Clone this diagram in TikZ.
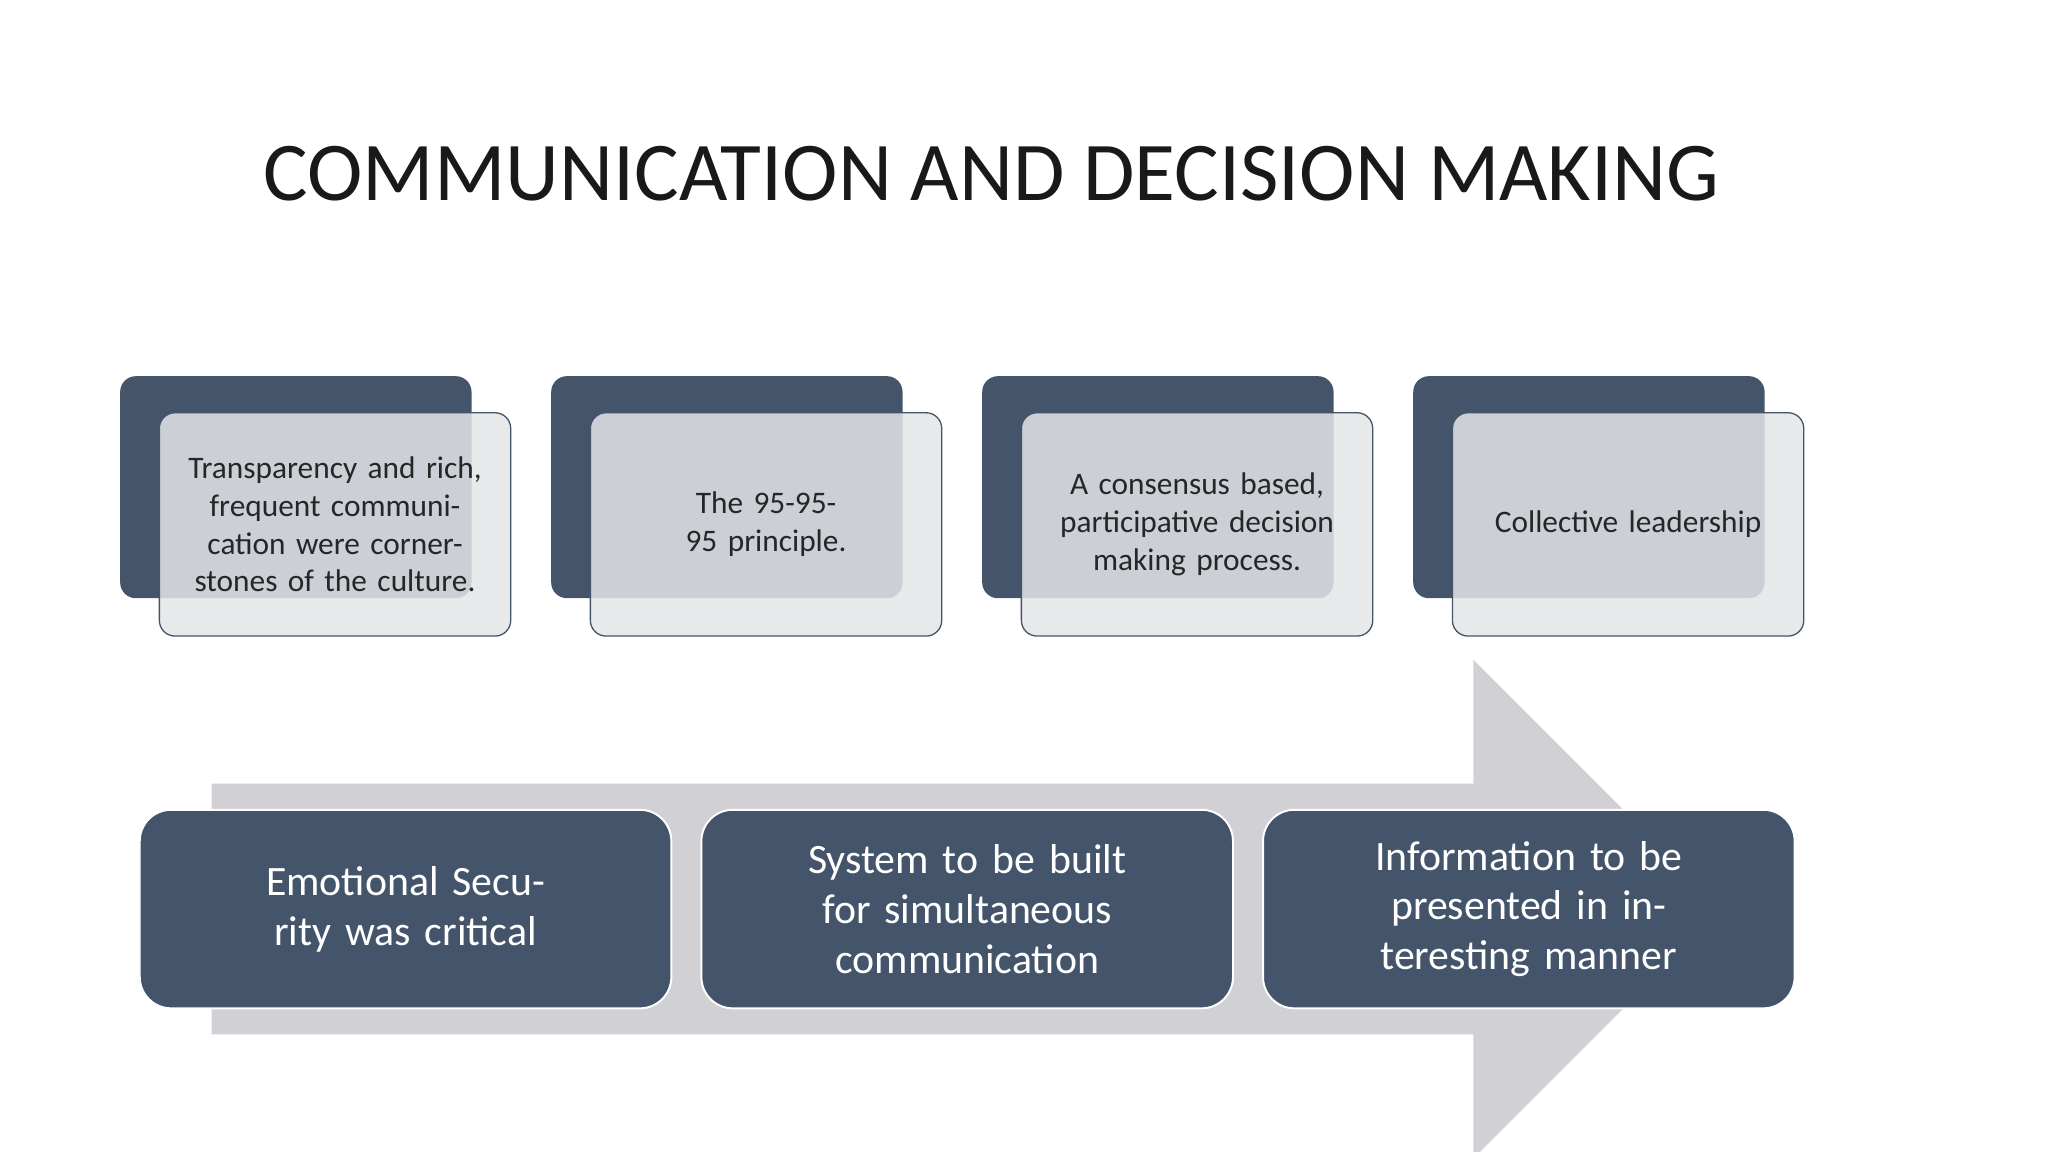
\documentclass[tikz,border=0pt]{standalone}
\usepackage{fontspec}
\setmainfont{Carlito}
\definecolor{dk}{HTML}{44546A}
\definecolor{lt}{HTML}{E4E5E8}
\definecolor{arr}{HTML}{D0D0D5}
\begin{document}
\begin{tikzpicture}[x=1pt,y=-1pt,
  back/.style={fill=dk,rounded corners=12pt,draw=none},
  front/.style={fill=lt,fill opacity=0.85,draw=dk,line width=1pt,rounded corners=12pt,text opacity=1,
    text width=240pt,align=center,font=\fontsize{24}{29}\selectfont,text=black!85},
  low/.style={fill=dk,draw=white,line width=1.5pt,rounded corners=24pt,
    text width=360pt,align=center,font=\fontsize{32}{38}\selectfont,text=white}]
\useasboundingbox (0,0) rectangle (1568,882);
\clip (0,0) rectangle (1568,882);
\node[font=\fontsize{64}{70}\selectfont,text=black!90] (title) at (759,133) {COMMUNICATION AND DECISION MAKING};
\fill[arr] (162,600) -- (1128,600) -- (1128,505) -- (1319,696) -- (1128,887) -- (1128,792) -- (162,792) -- cycle;
\foreach \i/\t in {0/{Transparency and rich, frequent communication were cornerstones of the culture.},
  1/{The 95-95-\\95 principle.},
  2/{A consensus based, participative decision making process.},
  3/{Collective leadership}}{
  \fill[back] (92+330*\i,288) rectangle (361+330*\i,458);
  \draw[front] (122+330*\i,316) rectangle (391+330*\i,487);
  \node[text width=240pt,align=center,font=\fontsize{24}{29}\selectfont,text=black!85] (t\i) at (256.5+330*\i,401.5) {\t};
}
\node[low,minimum width=407pt,minimum height=152pt] (b1) at (310.5,696) {Emotional Security was critical};
\node[low,minimum width=407pt,minimum height=152pt] (b2) at (740.5,696) {System to be built for simultaneous communication};
\node[low,minimum width=407pt,minimum height=152pt,text width=340pt] (b3) at (1170.5,696) {Information to be presented in interesting manner};
\end{tikzpicture}
\end{document}
